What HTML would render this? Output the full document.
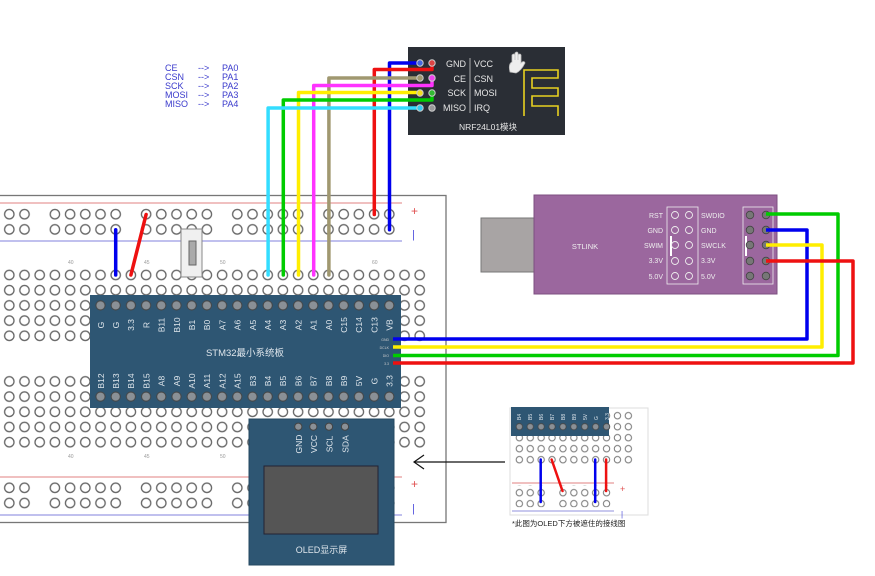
<!DOCTYPE html>
<html><head><meta charset="utf-8"><style>
html,body{margin:0;padding:0;background:#fff;width:875px;height:576px;overflow:hidden}
svg{display:block}
text{font-family:"Liberation Sans","Noto Sans CJK SC",sans-serif}
</style></head><body>
<svg width="875" height="576" viewBox="0 0 875 576" xmlns="http://www.w3.org/2000/svg">
<defs>
<pattern id="h" x="1.7" y="267.4" width="15.2" height="15.2" patternUnits="userSpaceOnUse">
<circle cx="7.6" cy="7.6" r="4.7" fill="#fff" stroke="#666" stroke-width="1.3"/></pattern>
<pattern id="p" x="1.7" y="267.4" width="15.2" height="15.2" patternUnits="userSpaceOnUse">
<circle cx="7.6" cy="7.6" r="4.6" fill="#8a9096" stroke="#444" stroke-width="1"/></pattern>
<pattern id="s" x="513.9" y="410.2" width="10.9" height="11" patternUnits="userSpaceOnUse">
<circle cx="5.45" cy="5.5" r="3.2" fill="#fff" stroke="#777" stroke-width="1"/></pattern>
<pattern id="sp" x="513.9" y="410.2" width="10.9" height="11" patternUnits="userSpaceOnUse">
<circle cx="5.45" cy="5.5" r="3.2" fill="#8a9096" stroke="#444" stroke-width="0.8"/></pattern>
</defs>

<!-- legend -->
<g font-size="9" fill="#3a3acc">
<text x="165" y="71">CE</text><text x="198" y="71">--&gt;</text><text x="222" y="71">PA0</text>
<text x="165" y="80">CSN</text><text x="198" y="80">--&gt;</text><text x="222" y="80">PA1</text>
<text x="165" y="89">SCK</text><text x="198" y="89">--&gt;</text><text x="222" y="89">PA2</text>
<text x="165" y="98">MOSI</text><text x="198" y="98">--&gt;</text><text x="222" y="98">PA3</text>
<text x="165" y="107">MISO</text><text x="198" y="107">--&gt;</text><text x="222" y="107">PA4</text>
</g>

<!-- breadboard -->
<rect x="-2" y="195.5" width="448" height="327" fill="#fff" stroke="#777" stroke-width="1.3"/>
<line x1="0" y1="203" x2="402" y2="203" stroke="#e08080" stroke-width="1"/>
<line x1="0" y1="241" x2="402" y2="241" stroke="#8080dd" stroke-width="1"/>
<line x1="0" y1="477" x2="402" y2="477" stroke="#e08080" stroke-width="1"/>
<line x1="0" y1="515" x2="402" y2="515" stroke="#8080dd" stroke-width="1"/>
<text x="411" y="215" font-size="12" fill="#e05050">+</text>
<text x="412" y="238" font-size="11" fill="#5050dd">|</text>
<text x="411" y="488" font-size="12" fill="#e05050">+</text>
<text x="412" y="512" font-size="11" fill="#5050dd">|</text>
<g fill="url(#h)">
<rect x="1.7" y="206.4" width="30.4" height="30.4"/><rect x="47.3" y="206.4" width="76" height="30.4"/>
<rect x="138.5" y="206.4" width="76" height="30.4"/><rect x="229.7" y="206.4" width="76" height="30.4"/>
<rect x="320.9" y="206.4" width="76" height="30.4"/>
<rect x="1.7" y="481.2" width="30.4" height="30.4"/><rect x="47.3" y="481.2" width="76" height="30.4"/>
<rect x="138.5" y="481.2" width="76" height="30.4"/><rect x="229.7" y="481.2" width="76" height="30.4"/>
<rect x="320.9" y="481.2" width="76" height="30.4"/>
<rect x="1.7" y="267.4" width="425.6" height="76"/>
<rect x="1.7" y="373.8" width="425.6" height="76"/>
</g>
<g font-size="5" fill="#999">
<text x="68" y="264">40</text><text x="144" y="264">45</text><text x="220" y="264">50</text><text x="372" y="264">60</text>
<text x="68" y="458">40</text><text x="144" y="458">45</text><text x="220" y="458">50</text>
</g>
<!-- button -->
<rect x="181" y="229" width="21" height="48" fill="#f0f0f0" stroke="#888"/>
<rect x="189" y="241" width="7" height="24" fill="#aaa" stroke="#666"/>
<line x1="115.7" y1="229.7" x2="115.7" y2="275" stroke="#0000ee" stroke-width="3.5" stroke-linecap="round"/>
<line x1="146.1" y1="214.5" x2="130.9" y2="275" stroke="#ee1111" stroke-width="3.5" stroke-linecap="round"/>

<!-- STM32 board -->
<rect x="90" y="295" width="311" height="113" fill="#2e5673"/>
<rect x="92.9" y="297.8" width="304" height="15.2" fill="url(#p)"/>
<rect x="92.9" y="389" width="304" height="15.2" fill="url(#p)"/>
<g font-size="8.5" fill="#dfe6ec">
<g transform="translate(0,325)">
<text transform="translate(104,0) rotate(-90)" text-anchor="middle">G</text>
<text transform="translate(119,0) rotate(-90)" text-anchor="middle">G</text>
<text transform="translate(134,0) rotate(-90)" text-anchor="middle">3.3</text>
<text transform="translate(149.5,0) rotate(-90)" text-anchor="middle">R</text>
<text transform="translate(164.5,0) rotate(-90)" text-anchor="middle">B11</text>
<text transform="translate(180,0) rotate(-90)" text-anchor="middle">B10</text>
<text transform="translate(195,0) rotate(-90)" text-anchor="middle">B1</text>
<text transform="translate(210,0) rotate(-90)" text-anchor="middle">B0</text>
<text transform="translate(225.5,0) rotate(-90)" text-anchor="middle">A7</text>
<text transform="translate(240.5,0) rotate(-90)" text-anchor="middle">A6</text>
<text transform="translate(256,0) rotate(-90)" text-anchor="middle">A5</text>
<text transform="translate(271,0) rotate(-90)" text-anchor="middle">A4</text>
<text transform="translate(286,0) rotate(-90)" text-anchor="middle">A3</text>
<text transform="translate(301.5,0) rotate(-90)" text-anchor="middle">A2</text>
<text transform="translate(316.5,0) rotate(-90)" text-anchor="middle">A1</text>
<text transform="translate(332,0) rotate(-90)" text-anchor="middle">A0</text>
<text transform="translate(347,0) rotate(-90)" text-anchor="middle">C15</text>
<text transform="translate(362,0) rotate(-90)" text-anchor="middle">C14</text>
<text transform="translate(377.5,0) rotate(-90)" text-anchor="middle">C13</text>
<text transform="translate(392.5,0) rotate(-90)" text-anchor="middle">VB</text>
</g>
<g transform="translate(0,381)">
<text transform="translate(104,0) rotate(-90)" text-anchor="middle">B12</text>
<text transform="translate(119,0) rotate(-90)" text-anchor="middle">B13</text>
<text transform="translate(134,0) rotate(-90)" text-anchor="middle">B14</text>
<text transform="translate(149.5,0) rotate(-90)" text-anchor="middle">B15</text>
<text transform="translate(164.5,0) rotate(-90)" text-anchor="middle">A8</text>
<text transform="translate(180,0) rotate(-90)" text-anchor="middle">A9</text>
<text transform="translate(195,0) rotate(-90)" text-anchor="middle">A10</text>
<text transform="translate(210,0) rotate(-90)" text-anchor="middle">A11</text>
<text transform="translate(225.5,0) rotate(-90)" text-anchor="middle">A12</text>
<text transform="translate(240.5,0) rotate(-90)" text-anchor="middle">A15</text>
<text transform="translate(256,0) rotate(-90)" text-anchor="middle">B3</text>
<text transform="translate(271,0) rotate(-90)" text-anchor="middle">B4</text>
<text transform="translate(286,0) rotate(-90)" text-anchor="middle">B5</text>
<text transform="translate(301.5,0) rotate(-90)" text-anchor="middle">B6</text>
<text transform="translate(316.5,0) rotate(-90)" text-anchor="middle">B7</text>
<text transform="translate(332,0) rotate(-90)" text-anchor="middle">B8</text>
<text transform="translate(347,0) rotate(-90)" text-anchor="middle">B9</text>
<text transform="translate(362,0) rotate(-90)" text-anchor="middle">5V</text>
<text transform="translate(377.5,0) rotate(-90)" text-anchor="middle">G</text>
<text transform="translate(392.5,0) rotate(-90)" text-anchor="middle">3.3</text>
</g>
<text x="245" y="356" font-size="9.5" text-anchor="middle">STM32最小系统板</text>
</g>
<g font-size="3.5" fill="#ccc" text-anchor="end">
<text x="389" y="341">GND</text><text x="389" y="349">DCLK</text><text x="389" y="357">DIO</text><text x="389" y="365">3.3</text>
</g>

<!-- OLED -->
<rect x="249" y="419" width="145" height="146" fill="#2e5673" stroke="#244860"/>
<g fill="#8a9096" stroke="#444" stroke-width="1">
<circle cx="298.3" cy="426.7" r="3.6"/><circle cx="313.3" cy="426.7" r="3.6"/><circle cx="329" cy="426.7" r="3.6"/><circle cx="345" cy="426.7" r="3.6"/>
</g>
<g font-size="8.5" fill="#dfe6ec">
<text transform="translate(302,444) rotate(-90)" text-anchor="middle">GND</text>
<text transform="translate(317,444) rotate(-90)" text-anchor="middle">VCC</text>
<text transform="translate(332.5,444) rotate(-90)" text-anchor="middle">SCL</text>
<text transform="translate(348.5,444) rotate(-90)" text-anchor="middle">SDA</text>
<text x="321.5" y="553" font-size="9" text-anchor="middle">OLED显示屏</text>
</g>
<rect x="264" y="466" width="114" height="68" fill="#555" stroke="#223"/>

<!-- arrow -->
<line x1="505" y1="462" x2="414" y2="462" stroke="#111" stroke-width="1.2"/>
<polyline points="424,455 414,462 424,469" fill="none" stroke="#111" stroke-width="1.2"/>

<!-- NRF module -->
<rect x="408" y="47" width="157" height="88" fill="#2a2e35"/>
<g font-size="9" fill="#e6e6e6">
<text x="466" y="67" text-anchor="end">GND</text><text x="466" y="82" text-anchor="end">CE</text>
<text x="466" y="96" text-anchor="end">SCK</text><text x="466" y="111" text-anchor="end">MISO</text>
<text x="474" y="67">VCC</text><text x="474" y="82">CSN</text><text x="474" y="96">MOSI</text><text x="474" y="111">IRQ</text>
<text x="488" y="130" font-size="8.5" text-anchor="middle">NRF24L01模块</text>
</g>
<line x1="470" y1="58" x2="470" y2="113" stroke="#ccc" stroke-width="0.8"/>
<path d="M524 116 V70 H558 V78 H532 V88 H558 V96 H532 V106 H558 V116" fill="none" stroke="#e8d020" stroke-width="1.6"/>
<path d="M510 72 q-2-8 2-10 v-7 q2-2 3 0 v5 v-7 q2-2 3 0 v7 v-5 q2-2 3 0 v8 q3-3 4 0 q-4 8-9 10 z" fill="#eee" stroke="#bbb" stroke-width="0.8"/>

<g fill="none" stroke-width="3.5" stroke-linejoin="round" stroke-linecap="round">
<path d="M420 63 H389.5 V229.7" stroke="#0000ee"/>
<path d="M432 63 V69.5 H374.3 V214.5" stroke="#ee1111"/>
<path d="M420 78 H328.9 V275" stroke="#a09870"/>
<path d="M432 78 V85.5 H313.7 V275" stroke="#ff33ff"/>
<path d="M420 92.5 H298.5 V275" stroke="#ffee00"/>
<path d="M432 93 V100 H283.3 V275" stroke="#00cc00"/>
<path d="M420 108 H268.1 V275" stroke="#33ddff"/>
</g>
<g stroke-width="1">
<circle cx="420" cy="63" r="3.2" fill="#4466dd" stroke="#ccc"/>
<circle cx="432" cy="63" r="3.2" fill="#dd4444" stroke="#ccc"/>
<circle cx="420" cy="78" r="3.2" fill="#a09870" stroke="#ccc"/>
<circle cx="432" cy="78" r="3.2" fill="#ee44ee" stroke="#ccc"/>
<circle cx="420" cy="93" r="3.2" fill="#eedd22" stroke="#ccc"/>
<circle cx="432" cy="93" r="3.2" fill="#33bb33" stroke="#ccc"/>
<circle cx="420" cy="108" r="3.2" fill="#33ccee" stroke="#ccc"/>
<circle cx="432" cy="108" r="3.2" fill="#999" stroke="#ccc"/>
</g>

<!-- STLINK -->
<rect x="481" y="218" width="53" height="54" fill="#a8a4a4" stroke="#777"/>
<rect x="534" y="195" width="243" height="99" fill="#9b679e" stroke="#7d4f80"/>
<text x="585" y="249" font-size="7.5" fill="#eee" text-anchor="middle">STLINK</text>
<g font-size="7" fill="#eee">
<text x="663" y="218" text-anchor="end">RST</text><text x="663" y="233" text-anchor="end">GND</text>
<text x="663" y="248" text-anchor="end">SWIM</text><text x="663" y="263" text-anchor="end">3.3V</text>
<text x="663" y="279" text-anchor="end">5.0V</text>
<text x="701" y="218">SWDIO</text><text x="701" y="233">GND</text><text x="701" y="248">SWCLK</text>
<text x="701" y="263">3.3V</text><text x="701" y="279">5.0V</text>
</g>
<rect x="667" y="207" width="31" height="77" fill="none" stroke="#eee" stroke-width="0.8"/>
<rect x="743" y="207" width="30" height="77" fill="none" stroke="#eee" stroke-width="0.8"/>
<rect x="670" y="236" width="2" height="20" fill="#fff"/>
<rect x="745" y="236" width="2" height="20" fill="#fff"/>
<g fill="none" stroke="#eee" stroke-width="0.9">
<circle cx="675" cy="215" r="3.5"/><circle cx="689" cy="215" r="3.5"/>
<circle cx="675" cy="230" r="3.5"/><circle cx="689" cy="230" r="3.5"/>
<circle cx="675" cy="245" r="3.5"/><circle cx="689" cy="245" r="3.5"/>
<circle cx="675" cy="261" r="3.5"/><circle cx="689" cy="261" r="3.5"/>
<circle cx="675" cy="276" r="3.5"/><circle cx="689" cy="276" r="3.5"/>
</g>
<g fill="#777" stroke="#444" stroke-width="0.8">
<circle cx="750" cy="215" r="3.8"/><circle cx="766" cy="215" r="3.8"/>
<circle cx="750" cy="230" r="3.8"/><circle cx="766" cy="230" r="3.8"/>
<circle cx="750" cy="245" r="3.8"/><circle cx="766" cy="245" r="3.8"/>
<circle cx="750" cy="261" r="3.8"/><circle cx="766" cy="261" r="3.8"/>
<circle cx="750" cy="276" r="3.8"/><circle cx="766" cy="276" r="3.8"/>
</g>
<g fill="none" stroke-width="3.5" stroke-linejoin="round">
<path d="M766 214 H838 V355.5 H393" stroke="#00cc00"/>
<path d="M766 230 H807 V339 H393" stroke="#0000ee"/>
<path d="M766 245 H822 V347 H393" stroke="#ffee00"/>
<path d="M766 261 H853 V363 H393" stroke="#ee1111"/>
</g>

<!-- inset -->
<rect x="510" y="408" width="138" height="107" fill="#fff" stroke="#ddd"/>
<rect x="513.9" y="410.2" width="120" height="55" fill="url(#s)"/>
<rect x="513.9" y="485.2" width="32.7" height="22" fill="url(#s)"/>
<rect x="557.5" y="485.2" width="54.5" height="22" fill="url(#s)"/>
<line x1="512" y1="483" x2="614" y2="483" stroke="#e08080" stroke-width="1"/>
<line x1="512" y1="511" x2="614" y2="511" stroke="#9090dd" stroke-width="1"/>
<text x="620" y="492" font-size="9" fill="#e05050">+</text>
<text x="621" y="517" font-size="8" fill="#5050dd">|</text>
<rect x="511" y="407" width="98" height="29" fill="#2e5673"/>
<rect x="513.9" y="421.2" width="98" height="11" fill="url(#sp)"/>
<g font-size="5" fill="#dfe6ec">
<text transform="translate(521,420) rotate(-90)">B4</text>
<text transform="translate(532,420) rotate(-90)">B5</text>
<text transform="translate(543,420) rotate(-90)">B6</text>
<text transform="translate(554,420) rotate(-90)">B7</text>
<text transform="translate(565,420) rotate(-90)">B8</text>
<text transform="translate(576,420) rotate(-90)">B9</text>
<text transform="translate(587,420) rotate(-90)">5V</text>
<text transform="translate(598,420) rotate(-90)">G</text>
<text transform="translate(609,420) rotate(-90)">3.3</text>
</g>
<g stroke-width="2.5" stroke-linecap="round">
<line x1="540.7" y1="459.5" x2="540.7" y2="502" stroke="#0000ee"/>
<line x1="551.6" y1="459.5" x2="562.5" y2="491" stroke="#ee1111"/>
<line x1="595.2" y1="459.5" x2="595.2" y2="502" stroke="#0000ee"/>
<line x1="606.1" y1="459.5" x2="606.1" y2="491" stroke="#ee1111"/>
</g>
<text x="512" y="526" font-size="7.5" fill="#222">*此图为OLED下方被遮住的接线图</text>
</svg>
</body></html>
